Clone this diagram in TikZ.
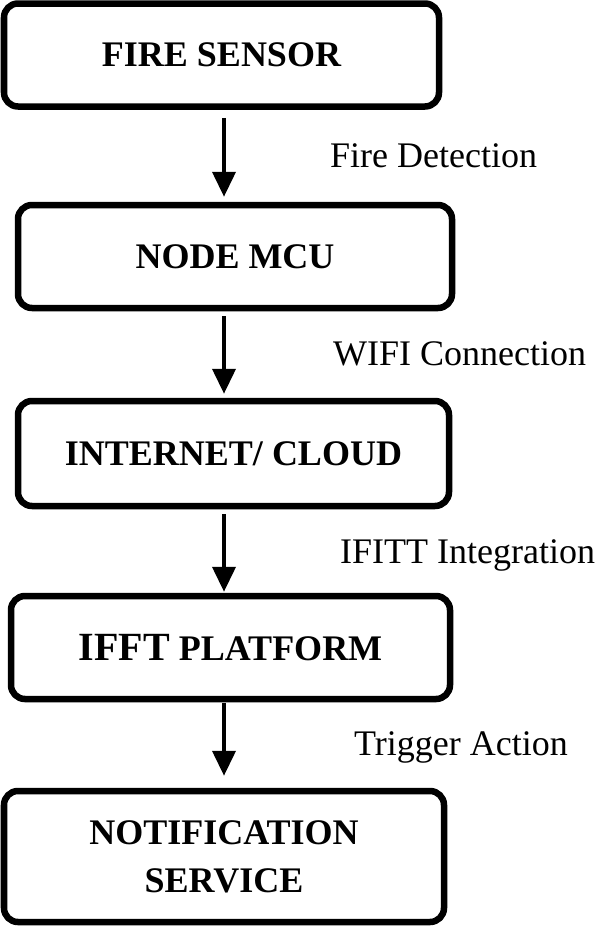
\documentclass[tikz,border=0pt]{standalone}
\usepackage{fontspec}
\setmainfont{Liberation Serif}
\usepackage{tikz}
\usetikzlibrary{positioning}
\usetikzlibrary{arrows.meta}

\begin{document}
\begin{tikzpicture}[x=1pt,y=-1pt]
% définition des paramètres
\tikzstyle boitealerte=[draw=black,line width=6.5pt,rounded corners=14pt,minimum height=103pt,inner sep=0pt,align=center,font=\fontsize{36}{48}\selectfont\bfseries]
\tikzstyle flechealerte=[line width=4pt,-{Triangle[width=23pt,length=25pt]}]
\tikzstyle textealerte=[anchor=base west,inner sep=0pt,font=\fontsize{36}{43}\selectfont]
\newcommand{\axefleche}{224} % abscisse des flèches
% le cadre
\useasboundingbox (0,0) rectangle (595,927);
% les boîtes
\node[boitealerte,minimum width=435pt] (capteur) at (221.5,55) {FIRE SENSOR};
\node[boitealerte,minimum width=434pt] (mcu) at (235,256.5) {NODE MCU};
\node[boitealerte,minimum width=431pt,minimum height=105pt] (cloud) at (233.5,453.5) {INTERNET/ CLOUD};
\node[boitealerte,minimum width=439pt] (ifft) at (230.5,647.5) {{\fontsize{40}{48}\selectfont IFFT} PLATFORM};
\node[boitealerte,minimum width=440pt,minimum height=131pt] (notif) at (224,856.5) {NOTIFICATION\\SERVICE};
% les flèches
\coordinate (axe) at (\axefleche,0);
\draw[flechealerte,shorten <=8pt,shorten >=5pt] (capteur.south -| axe) -- (mcu.north -| axe);
\draw[flechealerte,shorten <=5pt,shorten >=4pt] (mcu.south -| axe) -- (cloud.north -| axe);
\draw[flechealerte,shorten <=5pt,shorten >=1pt] (cloud.south -| axe) -- (ifft.north -| axe);
\draw[flechealerte,shorten <=1pt,shorten >=12pt] (ifft.south -| axe) -- (notif.north -| axe);
% les légendes
\node[textealerte] (detection) at (330,167) {Fire Detection};
\node[textealerte] (wifi) at (333,365) {WIFI Connection};
\node[textealerte] (ifitt) at (340,563) {IFITT Integration};
\node[textealerte] (trigger) at (354,755) {Trigger Action};
\end{tikzpicture}
\end{document}
